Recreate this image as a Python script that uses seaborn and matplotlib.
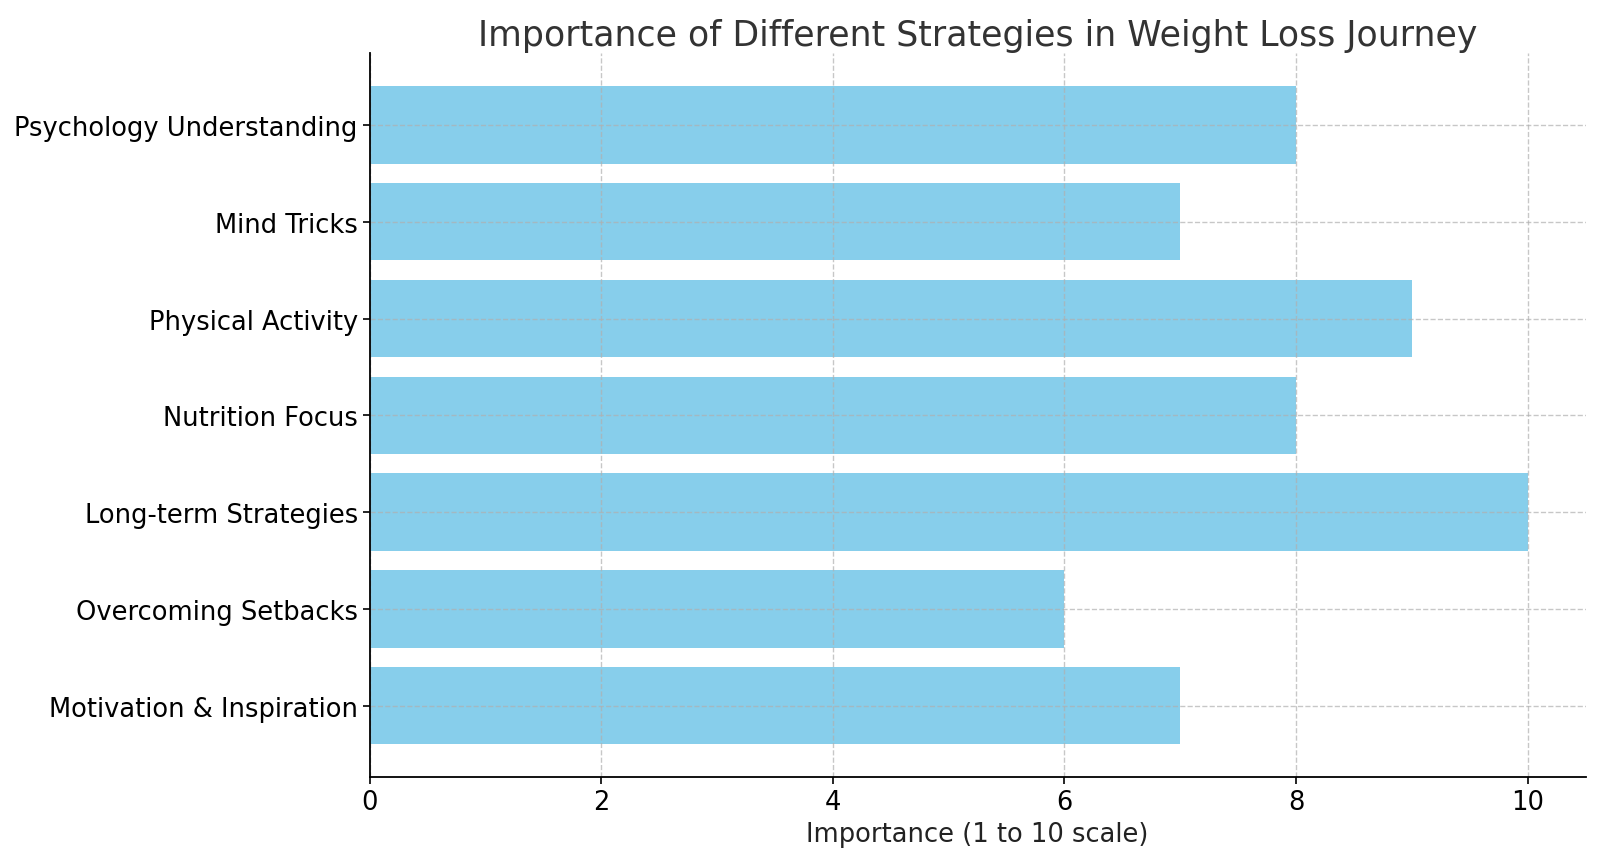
import matplotlib
matplotlib.use("Agg")
import matplotlib.pyplot as plt
import seaborn as sns
import pandas as pd

# strategies, listed bottom to top as in the chart
strategies = ["Motivation & Inspiration", "Overcoming Setbacks", "Long-term Strategies",
              "Nutrition Focus", "Physical Activity", "Mind Tricks", "Psychology Understanding"]
importance = [7, 6, 10, 8, 9, 7, 8]

df = pd.DataFrame({"Strategy": strategies, "Importance": importance})

sns.set_style("white")
plt.rcParams['font.family'] = ['DejaVu Sans']

fig, ax = plt.subplots(figsize=(16, 8.62), dpi=100)
sns.barplot(data=df, x="Importance", y="Strategy", order=strategies, orient="h",
            color="#87CEEB", saturation=1, width=0.8, linewidth=0, ax=ax, zorder=1)

# first category at the bottom
ax.set_ylim(-0.74, 6.74)
ax.set_xlim(0, 10.5)
ax.set_xticks([0, 2, 4, 6, 8, 10])

# grid is drawn over the bars in the reference
ax.set_axisbelow(False)
ax.grid(True, linestyle="--", color="#b0b0b0", linewidth=1, alpha=0.7)
for s in ["top", "right"]:
    ax.spines[s].set_visible(False)
for s in ["left", "bottom"]:
    ax.spines[s].set_color("black")
    ax.spines[s].set_linewidth(1.3)
    ax.spines[s].set_zorder(4)

ax.tick_params(axis="both", labelsize=18.5, length=5, width=1.2, colors="black", left=True, bottom=True)
ax.set_ylabel("")
ax.set_xlabel("Importance (1 to 10 scale)", fontsize=18.5, color="#222222")
ax.set_title("Importance of Different Strategies in Weight Loss Journey", fontsize=25, color="#333333")

plt.subplots_adjust(left=0.231, right=0.991, top=0.937, bottom=0.097)
plt.savefig("out.png", dpi=100, facecolor="w")
